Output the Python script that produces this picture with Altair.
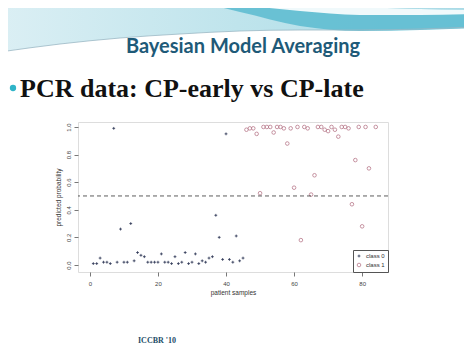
import altair as alt
import pandas as pd

# ---- data ----
class0_sample = list(range(1, 46))
class0_prob = [0.01, 0.01, 0.05, 0.02, 0.02, 0.01, 0.99, 0.02, 0.26, 0.02,
               0.02, 0.30, 0.03, 0.09, 0.07, 0.06, 0.02, 0.02, 0.02, 0.02,
               0.08, 0.02, 0.02, 0.01, 0.06, 0.01, 0.02, 0.09, 0.01, 0.02,
               0.08, 0.01, 0.03, 0.02, 0.05, 0.06, 0.36, 0.20, 0.04, 0.95,
               0.04, 0.02, 0.21, 0.03, 0.05]
class1_sample = list(range(46, 83)) + [84]
class1_prob = [0.98, 0.99, 0.99, 0.95, 0.52, 1.00, 1.00, 1.00, 0.96, 1.00,
               1.00, 0.99, 0.88, 0.99, 0.56, 1.00, 0.18, 1.00, 0.99, 0.51,
               0.65, 1.00, 1.00, 0.98, 0.97, 1.00, 0.98, 0.93, 1.00, 1.00,
               0.99, 0.44, 0.76, 1.00, 0.28, 1.00, 0.70, 1.00]
class_names = ["class 0", "class 1"]
x_ticks = [0, 20, 40, 60, 80]
y_ticks = [0.0, 0.2, 0.4, 0.6, 0.8, 1.0]
threshold = [0.5]

heading = ["Bayesian Model Averaging"]
bullet = ["PCR data: CP-early vs CP-late"]
footer = ["ICCBR '10"]

# decoration (slide header swoosh), page pixel coordinates
deco_x = [0, 60, 120, 180, 240, 300, 360, 420, 474]
deco_light_bottom = [52, 44, 38, 34, 31, 30, 30, 29, 27]
deco_white_top = [0, 0, 0, 0, 1, 4, 7, 9, 10]
deco_white_bot = [0, 0, 0, 0, 5, 11, 15, 15, 14]
deco_teal_bot = [0, 0, 0, 0, 12, 26, 31, 30, 28]

# ---- build ----
df = pd.DataFrame({
    "sample": class0_sample + class1_sample,
    "prob": class0_prob + class1_prob,
    "cls": [class_names[0]] * len(class0_sample) + [class_names[1]] * len(class1_sample),
})

W, H = 310, 150
PADL, PADT = 70, 114
OX, OY = PADL + 8, PADT + 8  # page position of plot origin

xs = alt.Scale(domain=[-3.5, 87.6], nice=False, zero=False)
ys = alt.Scale(domain=[-0.051, 1.036], nice=False, zero=False)

axis_common = dict(domain=False, tickColor="#555", tickSize=4, tickWidth=0.8,
                   labelFontSize=6, labelColor="#444", labelFont="Liberation Sans",
                   titleFontSize=6.5, titleFontWeight="normal", titleColor="#333",
                   titleFont="Liberation Sans", grid=False, labelOverlap=False,
                   labelFlush=False, labelBound=False)

y_axis = alt.Axis(values=y_ticks, format=".1f", title="predicted probability",
                  labelAngle=270, labelAlign="center", labelBaseline="bottom",
                  labelPadding=3, titlePadding=4, **axis_common)
x_axis = alt.Axis(values=x_ticks, title="patient samples", labelPadding=4,
                  titlePadding=3, **axis_common)

legend = alt.Legend(title=None, orient="bottom-right", offset=0,
                    strokeColor="#555", fillColor="white", padding=3,
                    labelFontSize=6, labelColor="#333", labelFont="Liberation Sans",
                    symbolSize=12, rowPadding=1, symbolStrokeWidth=0.8)

points = alt.Chart(df).mark_point(filled=False, strokeWidth=0.8, opacity=1).encode(
    x=alt.X("sample:Q", scale=xs, axis=x_axis),
    y=alt.Y("prob:Q", scale=ys, axis=y_axis),
    shape=alt.Shape("cls:N", scale=alt.Scale(domain=class_names,
                                             range=["M-1,0H1M0,-1V1", "circle"]),
                    legend=legend),
    color=alt.Color("cls:N", scale=alt.Scale(domain=class_names,
                                             range=["#2a3252", "#b8788a"]),
                    legend=legend),
    size=alt.Size("cls:N", scale=alt.Scale(domain=class_names, range=[8, 13]),
                  legend=None),
)

rule = alt.Chart(pd.DataFrame({"prob": threshold})).mark_rule(
    strokeDash=[4, 3], color="#333", strokeWidth=0.8
).encode(y=alt.Y("prob:Q", scale=ys, axis=y_axis))

plot = alt.layer(points, rule)

# decoration
ddf = pd.DataFrame({"x": deco_x, "lb": deco_light_bottom, "wt": deco_white_top,
                    "wb": deco_white_bot, "tb": deco_teal_bot,
                    "zero": [0] * len(deco_x)})
pxs = alt.Scale(domain=[0, 474], range=[-OX, 474 - OX])
pys = alt.Scale(domain=[0, 355], range=[-OY, 355 - OY])

light = alt.Chart(ddf).mark_area(
    interpolate="monotone",
    color=alt.Gradient(gradient="linear", x1=0, y1=0, x2=1, y2=0,
                       stops=[alt.GradientStop(color="#dbeff4", offset=0),
                              alt.GradientStop(color="#bfe4ec", offset=0.5),
                              alt.GradientStop(color="#a8dae6", offset=1)])
).encode(x=alt.X("x:Q", scale=pxs, axis=None),
         y=alt.Y("zero:Q", scale=pys, axis=None), y2="lb:Q")
teal = alt.Chart(ddf).mark_area(interpolate="monotone", color="#5bbbd0", opacity=0.85).encode(
    x=alt.X("x:Q", scale=pxs, axis=None),
    y=alt.Y("wt:Q", scale=pys, axis=None), y2="tb:Q")
white = alt.Chart(ddf).mark_area(interpolate="monotone", color="white", opacity=0.9).encode(
    x=alt.X("x:Q", scale=pxs, axis=None),
    y=alt.Y("wt:Q", scale=pys, axis=None), y2="wb:Q")
edge = alt.Chart(ddf).mark_line(interpolate="monotone", color="#9ab8c4", strokeWidth=0.8).encode(
    x=alt.X("x:Q", scale=pxs, axis=None),
    y=alt.Y("lb:Q", scale=pys, axis=None))
deco = alt.layer(light, teal, white, edge)

head = alt.Chart(pd.DataFrame({"t": heading})).mark_text(
    font="Lato", fontWeight="bold", fontSize=20, color="#1e5a78", align="center",
    baseline="middle"
).encode(x=alt.value(243 - OX), y=alt.value(47 - OY), text="t:N")

dot = alt.Chart(pd.DataFrame({"t": bullet})).mark_point(
    filled=True, color="#2fb4c8", size=40, opacity=1
).encode(x=alt.value(13 - OX), y=alt.value(88 - OY))

btxt = alt.Chart(pd.DataFrame({"t": bullet})).mark_text(
    font="Liberation Serif", fontWeight="bold", fontSize=26, color="#111",
    align="left", baseline="alphabetic"
).encode(x=alt.value(20 - OX), y=alt.value(97 - OY), text="t:N")

foot = alt.Chart(pd.DataFrame({"t": footer})).mark_text(
    font="Liberation Serif", fontWeight="bold", fontSize=8, color="#1d4d68",
    align="left", baseline="middle"
).encode(x=alt.value(138 - OX), y=alt.value(341 - OY), text="t:N")

chart = alt.layer(deco, plot, head, dot, btxt, foot).resolve_scale(
    x="independent", y="independent"
).properties(
    width=W, height=H,
    autosize=alt.AutoSizeParams(type="none"),
    padding={"left": PADL, "top": PADT, "right": 76, "bottom": 75},
).configure_view(stroke="#555", strokeWidth=1).configure(background="white")

chart.save("out.html", embed_options={"renderer": "svg", "actions": False})
